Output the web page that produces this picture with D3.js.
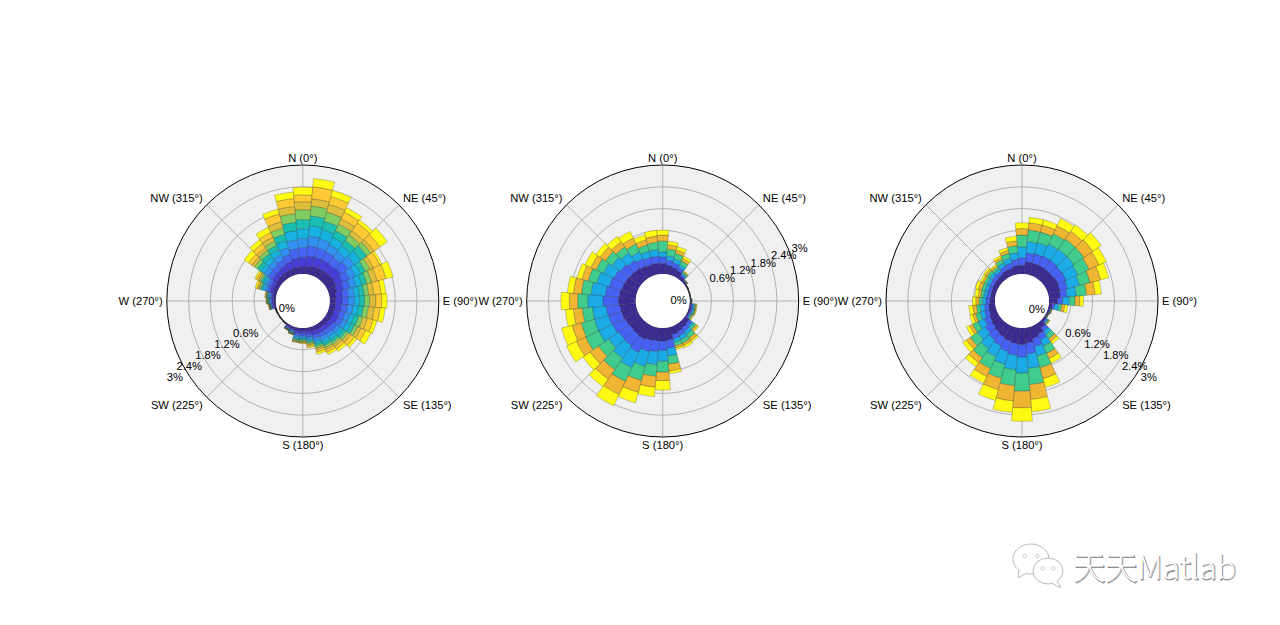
<!DOCTYPE html>
<html>
<head>
<meta charset="utf-8">
<style>
html,body{margin:0;padding:0;background:#fff;}
svg{display:block;}
text{font-family:"Liberation Sans",Arial,sans-serif;font-size:11.2px;fill:#000;}
</style>
<script src="https://cdn.jsdelivr.net/npm/d3@7"></script>
</head>
<body>
<svg width="1280" height="625"></svg>
<script>
var directions = d3.range(0, 360, 10)
var ticks = [0, 0.6, 1.2, 1.8, 2.4, 3]
var compass = [[0,'N (0°)'],[45,'NE (45°)'],[90,'E (90°)'],[135,'SE (135°)'],[180,'S (180°)'],[225,'SW (225°)'],[270,'W (270°)'],[315,'NW (315°)']]

var colors10 = ['#33228f','#3f36d8','#3d60f4','#2a8cf2','#0cb0e0','#10bcae','#7ccb5c','#dcbc34','#ffc82c','#fffa0a']
var colors6 = ['#33228f','#3d5cf4','#12a8e6','#38ca88','#efb22a','#fffa0a']

// percent per speed class, one row per direction from N clockwise
var rose1 = [
[.19,.27,.27,.25,.27,.25,.27,.22,.19,.21],
[.22,.28,.28,.27,.29,.27,.27,.20,.33,.23],
[.24,.27,.26,.26,.26,.24,.26,.22,.22,.18],
[.25,.26,.24,.22,.22,.20,.20,.16,.20,.14],
[.26,.24,.22,.20,.20,.18,.18,.14,.26,.10],
[.28,.26,.24,.22,.21,.20,.14,.10,.20,.25],
[.26,.22,.20,.18,.16,.14,.14,.10,.20,.06],
[.22,.20,.18,.18,.16,.14,.14,.16,.25,.20],
[.18,.18,.16,.16,.14,.14,.12,.14,.20,.13],
[.16,.18,.16,.18,.14,.14,.14,.17,.16,.15],
[.16,.17,.16,.16,.14,.14,.14,.16,.16,.14],
[.15,.16,.15,.14,.13,.12,.12,.13,.16,.11],
[.16,.16,.15,.13,.12,.11,.10,.10,.14,.16],
[.14,.14,.13,.11,.10,.09,.08,.08,.12,.08],
[.13,.13,.12,.10,.09,.08,.07,.07,.08,.08],
[.13,.12,.11,.10,.09,.07,.07,.06,.07,.07],
[.12,.11,.10,.09,.07,.06,.06,.05,.06,.06],
[.10,.09,.07,.06,.05,.04,.04,.03,.04,.03],
[.09,.07,.06,.05,.04,.03,.03,.02,.02,.02],
[.09,.07,.06,.05,.04,.03,.03,.02,.01,.01],
[.06,.04,.03,.02,.02,.02,.01,.01,.005,.005],
[.05,.03,.02,.02,.01,.01,.01,.005,.003,.002],
[.015,.008,.005,.004,.003,.002,.001,.001,.0005,.0005],
[.012,.006,.004,.003,.002,.001,.001,.0005,.0005,.0005],
[.012,.006,.004,.003,.002,.001,.001,.0005,.0005,.0005],
[.015,.008,.005,.004,.003,.002,.001,.001,.0005,.0005],
[.05,.04,.03,.02,.02,.01,.01,.01,.01,.01],
[.06,.05,.04,.03,.02,.02,.02,.01,.01,.01],
[.07,.05,.04,.04,.03,.02,.02,.01,.015,.015],
[.11,.09,.08,.07,.06,.05,.04,.03,.04,.05],
[.12,.10,.09,.08,.07,.06,.05,.04,.06,.05],
[.15,.14,.14,.13,.12,.11,.10,.08,.11,.15],
[.16,.15,.15,.14,.13,.12,.11,.09,.14,.13],
[.17,.17,.17,.16,.15,.13,.13,.12,.14,.16],
[.18,.20,.20,.20,.20,.18,.18,.18,.22,.14],
[.19,.25,.26,.24,.26,.23,.24,.20,.22,.18]
]

var rose2 = [
[.29,.18,.14,.30,.16,.14],
[.25,.14,.12,.18,.12,.10],
[.22,.13,.11,.15,.10,.10],
[.18,.10,.08,.11,.08,.07],
[.10,.05,.04,.04,.02,.02],
[.05,.02,.01,.01,.005,.005],
[.03,.005,.003,.002,.001,.001],
[.02,.005,.002,.001,.001,.001],
[.02,.004,.002,.001,.001,.001],
[.03,.01,.01,.005,.003,.002],
[.06,.04,.04,.03,.02,.02],
[.06,.05,.04,.03,.02,.02],
[.05,.04,.03,.03,.02,.02],
[.15,.09,.07,.07,.05,.04],
[.17,.11,.11,.12,.08,.05],
[.20,.12,.11,.11,.07,.07],
[.22,.12,.10,.10,.06,.05],
[.34,.22,.22,.22,.19,.07],
[.36,.26,.30,.30,.23,.26],
[.36,.30,.36,.32,.30,.26],
[.38,.32,.42,.40,.34,.30],
[.42,.40,.46,.42,.40,.34],
[.40,.36,.42,.38,.32,.25],
[.38,.36,.34,.34,.28,.24],
[.40,.38,.42,.40,.28,.30],
[.42,.38,.40,.38,.26,.30],
[.44,.38,.38,.28,.25,.22],
[.48,.42,.42,.28,.23,.23],
[.46,.38,.40,.26,.22,.17],
[.42,.36,.36,.24,.18,.14],
[.40,.34,.32,.22,.16,.18],
[.38,.30,.28,.22,.18,.14],
[.36,.26,.26,.20,.17,.18],
[.33,.22,.20,.24,.18,.20],
[.30,.20,.18,.18,.14,.14],
[.31,.19,.18,.20,.17,.16]
]

var rose3 = [
[.24,.21,.30,.32,.18,.16],
[.34,.24,.32,.32,.20,.15],
[.34,.26,.32,.30,.20,.15],
[.34,.28,.36,.32,.24,.22],
[.34,.28,.38,.34,.26,.22],
[.34,.26,.40,.34,.30,.28],
[.36,.24,.36,.34,.30,.22],
[.34,.22,.34,.30,.30,.23],
[.32,.18,.26,.28,.24,.17],
[.24,.14,.18,.16,.13,.10],
[.10,.07,.10,.09,.08,.08],
[.05,.02,.02,.01,.01,.01],
[.04,.01,.01,.01,.005,.005],
[.07,.04,.03,.03,.015,.015],
[.16,.12,.11,.14,.09,.08],
[.27,.17,.19,.22,.16,.14],
[.33,.23,.27,.33,.31,.25],
[.42,.30,.40,.45,.41,.34],
[.46,.34,.44,.50,.46,.37],
[.44,.32,.40,.44,.42,.32],
[.40,.30,.36,.40,.32,.31],
[.36,.26,.33,.36,.24,.20],
[.32,.24,.30,.30,.17,.14],
[.28,.22,.26,.24,.13,.12],
[.24,.17,.19,.16,.09,.10],
[.20,.13,.13,.12,.08,.09],
[.18,.12,.12,.10,.10,.11],
[.15,.10,.10,.09,.09,.09],
[.13,.10,.09,.08,.07,.09],
[.13,.10,.09,.09,.09,.09],
[.14,.10,.09,.08,.06,.06],
[.15,.11,.10,.08,.06,.05],
[.16,.10,.08,.07,.05,.04],
[.19,.12,.11,.10,.06,.06],
[.20,.14,.14,.14,.08,.08],
[.24,.17,.18,.20,.13,.13]
]

var svg = d3.select('svg')
var rad = d3.scaleLinear().domain([0, 3]).range([27, 136])
var ang = d3.scaleLinear().domain([0, 360]).range([0, 2 * Math.PI])
var arc = d3.arc()

function polar(deg, r) {
    return [r * Math.sin(ang(deg)), -r * Math.cos(ang(deg))]
}

function drawRose(cx, cy, rows, colors, axisDeg, anchor, zero) {
    var g = svg.append('g').attr('transform', 'translate(' + cx + ',' + cy + ')')

    g.append('circle').attr('r', rad(3)).attr('fill', '#f0f0f0')

    g.selectAll('.spoke').data(compass).enter().append('line')
        .attr('class', 'spoke')
        .attr('x2', function(d) { return polar(d[0], rad(3))[0] })
        .attr('y2', function(d) { return polar(d[0], rad(3))[1] })
        .attr('stroke', '#aaa').attr('stroke-width', 0.9)

    g.selectAll('.ring').data(ticks.slice(1, 5)).enter().append('circle')
        .attr('class', 'ring')
        .attr('r', function(d) { return rad(d) })
        .attr('fill', 'none').attr('stroke', '#aaa').attr('stroke-width', 0.9)

    // stack the speed classes outward for each direction
    var cells = []
    rows.forEach(function(row, i) {
        var sum = 0
        row.forEach(function(v, k) {
            cells.push({dir: directions[i], from: sum, to: sum + v, k: k})
            sum += v
        })
    })

    g.selectAll('.cell').data(cells).enter().append('path')
        .attr('class', 'cell')
        .attr('d', function(d) {
            return arc({
                innerRadius: rad(d.from), outerRadius: rad(d.to),
                startAngle: ang(d.dir - 5), endAngle: ang(d.dir + 5)
            })
        })
        .attr('fill', function(d) { return colors[d.k] })
        .attr('fill-opacity', 0.96)
        .attr('stroke', '#1c1c10').attr('stroke-opacity', 0.38).attr('stroke-width', 0.6)

    g.append('circle').attr('r', rad(0)).attr('fill', '#fff')
    g.append('circle').attr('r', rad(3)).attr('fill', 'none').attr('stroke', '#000').attr('stroke-width', 1)

    // compass labels
    g.selectAll('.dirlab').data(compass).enter().append('text')
        .attr('class', 'dirlab')
        .attr('x', function(d) {
            var s = Math.sin(ang(d[0]))
            return polar(d[0], rad(3))[0] + (Math.abs(s) < 0.01 ? 0 : (s > 0 ? 4 : -4))
        })
        .attr('y', function(d) {
            var c = Math.cos(ang(d[0]))
            return polar(d[0], rad(3))[1] + (Math.abs(c) < 0.01 ? 0 : (c > 0 ? -7 : 8))
        })
        .attr('dy', '0.35em')
        .attr('text-anchor', function(d) {
            var s = Math.sin(ang(d[0]))
            return Math.abs(s) < 0.01 ? 'middle' : (s > 0 ? 'start' : 'end')
        })
        .text(function(d) { return d[1] })

    // radial tick labels along the axis
    g.selectAll('.rlab').data(ticks).enter().append('text')
        .attr('class', 'rlab')
        .attr('x', function(d) {
            return d === 0 ? zero[0] : polar(axisDeg, rad(d))[0] + (anchor === 'end' ? -2 : 1)
        })
        .attr('y', function(d) {
            var off = axisDeg < 90 ? -6.5 : 8
            return d === 0 ? zero[1] : polar(axisDeg, rad(d))[1] + off
        })
        .attr('dy', '0.35em')
        .attr('text-anchor', function(d) {
            return d === 0 ? (anchor === 'end' ? 'start' : 'end') : anchor
        })
        .text(function(d) { return d + '%' })
}

drawRose(302.8, 301, rose1, colors10, 240, 'end', [-24, 7])
drawRose(662.7, 301, rose2, colors6, 70, 'start', [24, -1])
drawRose(1022, 301, rose3, colors6, 120, 'start', [23, 8])

// watermark
var mark = svg.append('g')
function bubble(cx, cy, rx, ry, tail) {
    var p = d3.path()
    p.moveTo(cx + tail[0], cy + tail[1])
    p.lineTo(cx + tail[2], cy + tail[3])
    p.lineTo(cx + tail[4], cy + tail[5])
    mark.append('ellipse').attr('cx', cx).attr('cy', cy).attr('rx', rx).attr('ry', ry)
        .attr('fill', '#fff').attr('stroke', '#bbb').attr('stroke-width', 1)
    mark.append('path').attr('d', p.toString()).attr('fill', '#fff').attr('stroke', '#bbb').attr('stroke-width', 1)
    mark.append('circle').attr('cx', cx - rx * 0.35).attr('cy', cy - ry * 0.2).attr('r', 1.8).attr('fill', '#fff').attr('stroke', '#bbb').attr('stroke-width', 0.7)
    mark.append('circle').attr('cx', cx + rx * 0.35).attr('cy', cy - ry * 0.2).attr('r', 1.8).attr('fill', '#fff').attr('stroke', '#bbb').attr('stroke-width', 0.7)
}
bubble(1031, 559, 18, 15, [-12, 11, -13, 19, -4, 14])
bubble(1048, 571, 15, 13, [9, 10, 13, 17, 3, 12])

var wmFont = '"Noto Sans CJK SC","Noto Sans",sans-serif'
mark.append('text').attr('x', 1074).attr('y', 580)
    .style('font-family', wmFont).style('font-size', '32px').style('font-weight', 300)
    .style('fill', '#fff').style('stroke', '#777').style('stroke-width', 0.8)
    .text('天天Matlab')
mark.append('text').attr('x', 1073).attr('y', 579)
    .style('font-family', wmFont).style('font-size', '32px').style('font-weight', 300)
    .style('fill', '#fff')
    .text('天天Matlab')
</script>
</body>
</html>
